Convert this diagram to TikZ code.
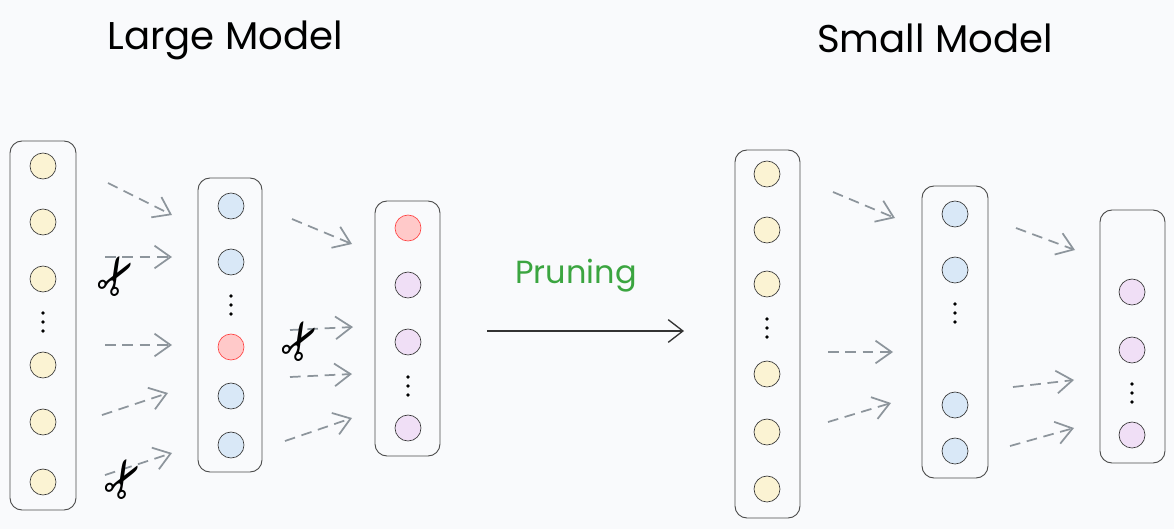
\documentclass[tikz,border=0pt]{standalone}
\usepackage{fontspec}
\newfontfamily\djv{DejaVu Sans}
\newfontfamily\hand{Poppins}
\usetikzlibrary{arrows.meta}
\definecolor{bg}{HTML}{F9FAFC}
\definecolor{cy}{HTML}{FBF3D3}
\definecolor{cb}{HTML}{D9E8F7}
\definecolor{cr}{HTML}{FFC9C9}
\definecolor{cp}{HTML}{F0DFF6}
\definecolor{ar}{HTML}{8D959C}
\definecolor{gr}{HTML}{3BA540}
\begin{document}
\begin{tikzpicture}[x=0.75pt,y=-0.75pt,
  layer/.style={draw=black!70,fill=bg,rounded corners=9pt,line width=0.7pt},
  neu/.style={circle,draw=black!80,minimum size=19.5pt,inner sep=0pt,line width=0.5pt},
  redn/.style={circle,draw=red!75,fill=cr,minimum size=19.5pt,inner sep=0pt,line width=0.5pt},
  vd/.style={inner sep=0pt,minimum size=1pt},
  flow/.style={draw=ar,dashed,dash pattern=on 8pt off 5pt,line width=1.3pt,-{Straight Barb[length=12pt,width=17pt,line width=1.3pt]}},
  cut/.style={font=\djv\fontsize{38}{38}\selectfont,inner sep=0pt},
  title/.style={font=\hand\fontsize{29}{32}\selectfont}]
\fill[bg] (0,0) rectangle (1174,529);
\useasboundingbox (0,0) rectangle (1174,529);
\newcommand\vdts[1]{\foreach \k in {-9,0,9} \fill[black] ($(#1)+(0,\k)$) circle[radius=1.9];}
\node[title] (t1) at (225,40) {Large Model};
\node[title] (t2) at (935,38) {Small Model};
% layers
\draw[layer] (10,141) rectangle (76,510);
\draw[layer] (198,178) rectangle (262,472);
\draw[layer] (375,201) rectangle (440,456);
\draw[layer] (735,150) rectangle (800,518);
\draw[layer] (922,186) rectangle (988,478);
\draw[layer] (1100,210) rectangle (1165,463);
\foreach \y/\n in {166/a1,222/a2,279/a3,365/a4,422/a5,482/a6} \node[neu,fill=cy] (\n) at (43,\y) {};
\foreach \y/\n in {206/b1,262/b2,396/b4,445/b5} \node[neu,fill=cb] (\n) at (231,\y) {};
\node[redn] (b3) at (231,347) {};
\node[redn] (c1) at (408,228) {};
\foreach \y/\n in {285/c2,342/c3,428/c4} \node[neu,fill=cp] (\n) at (408,\y) {};
\foreach \y/\n in {174/d1,230/d2,284/d3,374/d4,432/d5,489/d6} \node[neu,fill=cy] (\n) at (767,\y) {};
\foreach \y/\n in {214/e1,270/e2,405/e3,451/e4} \node[neu,fill=cb] (\n) at (955,\y) {};
\foreach \y/\n in {292/f1,350/f2,435/f3} \node[neu,fill=cp] (\n) at (1132,\y) {};
\foreach \x/\y/\n in {43/322/ad,231/305/bd,408/386/cd,767/328/dd,955/313/ed,1132/393/fd}
  {\foreach \k in {-9,0,9} \fill[black] (\x,\y+\k) circle[radius=1.9];}
% arrows
\foreach \a/\b/\c/\d/\n in {108/183/172/215/p1,105/257/172/257/p2,105/345/172/345/p3,102/415/168/393/p4,105/475/172/453/p5,
  292/219/352/244/p6,290/330/353/327/p7,290/377/352/374/p8,285/441/352/418/p9,
  833/192/895/218/p10,828/352/893/352/p11,828/422/891/403/p12,1016/228/1075/250/p13,1013/387/1074/380/p14,1010/446/1074/428/p15}
{\coordinate (\n s) at (\a,\b); \coordinate (\n e) at (\c,\d); \draw[flow] (\n s) -- (\n e);}
\node[cut,rotate=60] (s1) at (119,278) {✂};
\node[cut,rotate=60] (s2) at (126,481) {✂};
\node[cut,rotate=60] (s3) at (303,343) {✂};
\node[title,font=\hand\fontsize{24}{26}\selectfont,text=gr] (pr) at (576,276) {Pruning};
\coordinate (q1) at (487,331); \coordinate (q2) at (684,331);
\draw[black!80,line width=1pt,-{Straight Barb[length=11pt,width=17pt,line width=1pt]}] (q1) -- (q2);
\end{tikzpicture}
\end{document}
